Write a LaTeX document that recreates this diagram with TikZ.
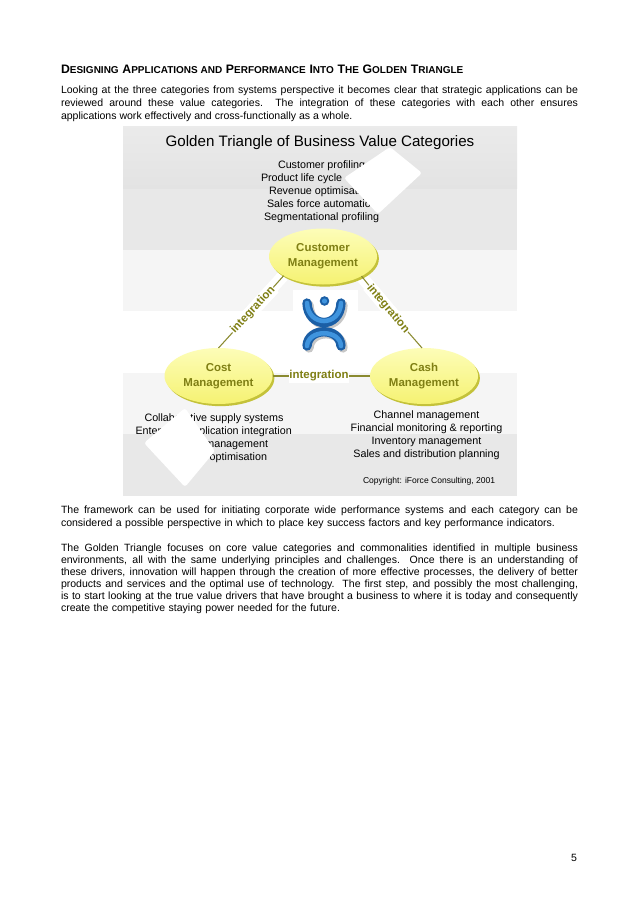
\documentclass[tikz,border=0pt]{standalone}
\usepackage{fontspec}
\setmainfont{Liberation Sans}
\usetikzlibrary{shapes.geometric,shadows}
\definecolor{olivetxt}{HTML}{7F7F14}
\definecolor{oliveline}{HTML}{8A8A30}
\definecolor{shadowolive}{HTML}{C4C23A}
\definecolor{ellTop}{HTML}{FDFDB8}
\definecolor{ellBot}{HTML}{F5F272}
\definecolor{logoDark}{HTML}{1B5FA6}
\definecolor{logoLight}{HTML}{3F94DE}
\newcommand{\sz}[1]{\fontsize{#1}{#1}\selectfont}
\newcommand{\scw}[2]{{\sz{9.2}#1}{\sz{7.5}#2}}
\newcommand{\jline}[2][387.75pt]{\makebox[#1][s]{#2}}
\tikzset{
  every node/.style={inner sep=0pt,outer sep=0pt},
  bodyline/.style={anchor=west,font=\sz{7.9},text height=7pt,text depth=0pt},
  listline/.style={anchor=west,font=\sz{8.05},text height=7.5pt,text depth=0pt},
  listcentre/.style={anchor=center,font=\sz{8.05},text height=7.5pt,text depth=0pt},
  listright/.style={anchor=east,font=\sz{8.05},text height=7.5pt,text depth=0pt},
  category/.style={ellipse,draw=none,minimum width=81pt,minimum height=42pt,
    top color=ellTop,bottom color=ellBot,
    drop shadow={shadow xshift=1.4pt,shadow yshift=-1.6pt,fill=shadowolive,opacity=1},
    align=center,text=olivetxt,font=\bfseries\fontsize{8.6}{11}\selectfont},
  linklabel/.style={fill=white,text=olivetxt,font=\bfseries\sz{8.6},inner xsep=0.6pt,inner ysep=1pt},
  linkline/.style={draw=oliveline,line width=0.8pt},
  mask/.style={fill=white,rounded corners=2pt},
  logoarc/.style={line cap=round,line width=#1}
}
\begin{document}
\begin{tikzpicture}[x=0.75pt,y=-0.75pt]
\useasboundingbox (0,0) rectangle (638,902);
\fill[white] (0,0) rectangle (638,902);
% page text
\node[bodyline,font=\bfseries] (head) at (61,69) {\scw{D}{ESIGNING} \scw{A}{PPLICATIONS AND} \scw{P}{ERFORMANCE} \scw{I}{NTO} \scw{T}{HE} \scw{G}{OLDEN} \scw{T}{RIANGLE}};
\node[bodyline] (a1) at (61,89) {\jline{Looking at the three categories from systems perspective it becomes clear that strategic applications can be}};
\node[bodyline] (a2) at (61,102) {\jline{reviewed around these value categories.\ \ The integration of these categories with each other ensures}};
\node[bodyline] (a3) at (61,115) {applications work effectively and cross-functionally as a whole.};
\node[bodyline] (b1) at (61,509) {\jline{The framework can be used for initiating corporate wide performance systems and each category can be}};
\node[bodyline] (b2) at (61,522) {\jline[370.5pt]{considered a possible perspective in which to place key success factors and key performance indicators.}};
\node[bodyline] (c1) at (61,547) {\jline{The Golden Triangle focuses on core value categories and commonalities identified in multiple business}};
\node[bodyline] (c2) at (61,559) {\jline{environments, all with the same underlying principles and challenges.\ \ Once there is an understanding of}};
\node[bodyline] (c3) at (61,571) {\jline{these drivers, innovation will happen through the creation of more effective processes, the delivery of better}};
\node[bodyline] (c4) at (61,583) {\jline{products and services and the optimal use of technology.\ \ The first step, and possibly the most challenging,}};
\node[bodyline] (c5) at (61,595) {\jline{is to start looking at the true value drivers that have brought a business to where it is today and consequently}};
\node[bodyline] (c6) at (61,607) {\jline[209.25pt]{create the competitive staying power needed for the future.}};
\node[bodyline] (pageno) at (571,857) {5};
% figure bands
\shade[top color=black!8,bottom color=black!11] (123,127) rectangle (517,189);
\fill[black!9] (123,189) rectangle (517,250);
\fill[black!4] (123,250) rectangle (517,311);
\fill[black!4] (123,373) rectangle (517,434);
\fill[black!9] (123,434) rectangle (517,496);
% logo
\fill[white] (293,290) rectangle (358,362);
\draw[logoarc=7pt,black!22] (309,305) .. controls (310,331) and (342,331) .. (343,305);
\draw[logoarc=7pt,black!22] (309,348) .. controls (310,329) and (342,329) .. (343,348);
\draw[logoarc=7pt,logoDark] (307,303) .. controls (308,329) and (340,329) .. (341,303);
\draw[logoarc=7pt,logoDark] (307,346) .. controls (308,327) and (340,327) .. (341,346);
\draw[logoarc=3.4pt,logoLight] (307,303) .. controls (308,327) and (340,327) .. (341,303);
\draw[logoarc=3.4pt,logoLight] (307,346) .. controls (308,329) and (340,329) .. (341,346);
\fill[logoDark] (324.5,301) circle (4.8);
\fill[logoLight] (324.5,301) circle (2.6);
% title and lists
\node[font=\sz{11.35}] (title) at (320,143) {Golden Triangle of Business Value Categories};
\node[listline] (t1) at (278,164) {Customer profiling};
\node[listline] (t2) at (261,177) {Product life cycle};
\node[listline] (t3) at (269,190) {Revenue optimisation};
\node[listline] (t4) at (267,203) {Sales force automation};
\node[listline] (t5) at (264,216) {Segmentational profiling};
\node[listline] (l1) at (144.5,416) {Collaborative supply systems};
\node[listline] (l2) at (135.5,429) {Enterprise application integration};
\node[listright] (l3) at (268,442) {management};
\node[listright] (l4) at (267,455) {optimisation};
\node[listcentre] (r1) at (426.5,413) {Channel management};
\node[listcentre] (r2) at (426.5,426) {Financial monitoring \& reporting};
\node[listcentre] (r3) at (426.5,439) {Inventory management};
\node[listcentre] (r4) at (426.5,452) {Sales and distribution planning};
\node[anchor=west,font=\sz{6.4}] (copy) at (363,481.5) {Copyright: iForce Consulting, 2001};
% white masks
\fill[mask] (390,147) -- (422,173) -- (378,214) -- (344,178) -- cycle;
\fill[mask] (185,408) -- (215,451) -- (185,487) -- (144,443) -- cycle;
% white stripes behind the sloping links
\draw[white,line width=9pt] (283,276) -- (230,334);
\draw[white,line width=9pt] (360,275) -- (411,335);
% categories
\node[category] (cust) at (323,256.5) {Customer\\Management};
\node[category] (cost) at (218.5,376) {Cost\\Management};
\node[category] (cash) at (424,376) {Cash\\Management};
% connectors
\node[linklabel,rotate=47] (linkL) at (253,310) {integration};
\node[linklabel,rotate=-50] (linkR) at (388,309) {integration};
\node[linklabel] (linkB) at (319,376) {integration};
\draw[linkline] (cust.206) -- (linkL);
\draw[linkline] (linkL) -- (cost.90);
\draw[linkline] (cust.-27) -- (linkR);
\draw[linkline] (linkR) -- (cash.94);
\draw[linkline] (cost) -- (linkB);
\draw[linkline] (linkB) -- (cash);
\end{tikzpicture}
\end{document}
